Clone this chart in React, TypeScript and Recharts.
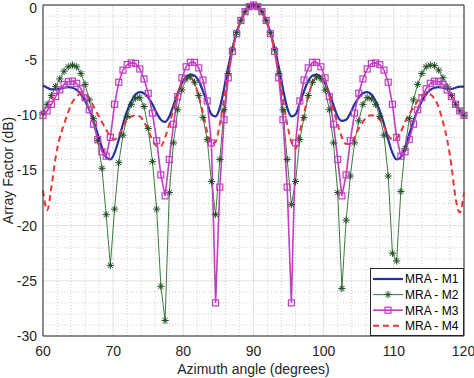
import {
	CartesianGrid,
	Legend,
	Line,
	LineChart,
	ReferenceLine,
	XAxis,
	YAxis,
} from "recharts";

// azimuth samples (degrees)
const AZIMUTH = [
	60.0, 60.6, 61.2, 61.8, 62.4, 63.0, 63.6, 64.2, 64.8, 65.4, 66.0, 66.6, 67.2,
	67.8, 68.4, 69.0, 69.6, 70.2, 70.8, 71.4, 72.0, 72.6, 73.2, 73.8, 74.4, 75.0,
	75.6, 76.2, 76.8, 77.4, 78.0, 78.6, 79.2, 79.8, 80.4, 81.0, 81.6, 82.2, 82.8,
	83.4, 84.0, 84.6, 85.2, 85.8, 86.4, 87.0, 87.6, 88.2, 88.8, 89.4, 90.0, 90.6,
	91.2, 91.8, 92.4, 93.0, 93.6, 94.2, 94.8, 95.4, 96.0, 96.6, 97.2, 97.8, 98.4,
	99.0, 99.6, 100.2, 100.8, 101.4, 102.0, 102.6, 103.2, 103.8, 104.4, 105.0,
	105.6, 106.2, 106.8, 107.4, 108.0, 108.6, 109.2, 109.8, 110.4, 111.0, 111.6,
	112.2, 112.8, 113.4, 114.0, 114.6, 115.2, 115.8, 116.4, 117.0, 117.6, 118.2,
	118.8, 119.4, 120.0,
];

const MRA_M1 = [
	-7.3, -7.5, -7.65, -7.65, -7.6, -7.5, -7.45, -7.5, -7.7, -8.1, -8.7, -9.5,
	-10.5, -11.7, -12.9, -13.8, -14.0, -13.4, -12.2, -10.8, -9.6, -8.7, -8.1,
	-7.9, -8.0, -8.4, -9.0, -9.8, -10.4, -10.6, -10.1, -9.1, -8.0, -7.1, -6.5,
	-6.3, -6.4, -6.9, -7.8, -8.9, -9.9, -10.1, -9.3, -7.6, -5.6, -3.9, -2.5, -1.4,
	-0.6, -0.15, 0, -0.15, -0.6, -1.4, -2.5, -3.9, -5.6, -7.6, -9.3, -10.1, -9.9,
	-8.9, -7.8, -6.9, -6.4, -6.3, -6.5, -7.1, -8.0, -9.1, -10.1, -10.5, -10.4,
	-9.8, -9.0, -8.4, -8.0, -7.9, -8.1, -8.7, -9.6, -10.8, -12.2, -13.4, -14.0,
	-13.8, -12.9, -11.7, -10.5, -9.5, -8.7, -8.1, -7.7, -7.5, -7.45, -7.5, -7.6,
	-7.6, -7.5, -7.4, -7.4,
];

const MRA_M2 = [
	-9.8, -9.0, -8.2, -7.4, -6.7, -6.0, -5.6, -5.45, -5.6, -6.2, -7.2, -8.6,
	-10.3, -12.3, -14.8, -19.0, -23.6, -18.5, -14.3, -11.8, -10.1, -9.0, -8.45,
	-8.4, -9.2, -11.2, -14.2, -18.5, -25.5, -28.6, -17.0, -12.5, -9.5, -7.7, -6.7,
	-6.5, -7.0, -8.2, -10.2, -12.2, -16.0, -19.0, -14.0, -9.5, -6.2, -4.0, -2.5,
	-1.4, -0.6, -0.15, 0, -0.15, -0.6, -1.4, -2.5, -4.0, -6.2, -9.5, -14.0, -18.1,
	-16.0, -12.2, -10.2, -8.2, -7.0, -6.5, -6.7, -7.7, -9.5, -12.5, -17.0, -25.7,
	-19.5, -15.5, -12.5, -10.5, -9.0, -8.4, -8.5, -9.0, -10.1, -11.8, -15.5,
	-22.5, -23.2, -16.9, -13.0, -10.3, -8.6, -7.2, -6.2, -5.6, -5.45, -5.5, -5.9,
	-6.6, -7.4, -8.2, -9.0, -9.6, -10.0,
];

const MRA_M3 = [
	-10.0, -9.6, -9.0, -8.3, -7.7, -7.2, -6.95, -6.9, -7.1, -7.6, -8.4, -9.5,
	-10.8, -12.2, -13.3, -13.7, -12.0, -9.0, -7.0, -5.9, -5.4, -5.25, -5.3, -5.8,
	-6.7, -8.0, -9.8, -12.3, -15.4, -17.3, -14.0, -10.8, -8.3, -6.6, -5.6, -5.2,
	-5.2, -5.7, -6.8, -8.7, -12.5, -27.0, -16.5, -10.4, -6.6, -4.2, -2.6, -1.4,
	-0.6, -0.15, 0, -0.15, -0.6, -1.4, -2.6, -4.2, -6.6, -10.4, -16.5, -27.0,
	-12.5, -8.7, -6.8, -5.7, -5.2, -5.2, -5.6, -6.6, -8.3, -10.8, -14.0, -17.3,
	-15.4, -12.3, -9.8, -8.0, -6.7, -5.8, -5.3, -5.25, -5.4, -5.9, -7.0, -9.0,
	-12.0, -13.7, -13.3, -12.2, -10.8, -9.5, -8.4, -7.6, -7.1, -6.9, -6.95, -7.2,
	-7.7, -8.3, -9.0, -9.6, -10.0,
];

const MRA_M4 = [
	-16.8, -18.6, -16.5, -13.8, -12.0, -10.8, -9.7, -8.8, -8.3, -8.0, -8.1, -8.5,
	-9.2, -9.9, -10.6, -11.3, -11.9, -12.2, -11.8, -11.0, -10.4, -10.1, -10.0,
	-10.1, -10.6, -11.4, -12.2, -12.8, -12.8, -12.0, -10.8, -9.5, -8.1, -7.1,
	-6.6, -6.6, -7.1, -8.3, -9.8, -11.5, -12.6, -12.4, -10.8, -8.5, -6.0, -4.0,
	-2.5, -1.4, -0.6, -0.15, 0, -0.15, -0.6, -1.4, -2.5, -4.0, -6.0, -8.5, -10.8,
	-12.4, -13.0, -11.5, -9.8, -8.3, -7.1, -6.6, -6.6, -7.1, -8.1, -9.5, -10.8,
	-12.0, -12.6, -12.6, -12.0, -11.2, -10.6, -10.1, -10.0, -10.1, -10.4, -11.0,
	-11.8, -12.2, -12.1, -11.5, -10.6, -9.9, -9.3, -8.7, -8.2, -8.0, -8.1, -8.5,
	-9.3, -10.6, -12.2, -14.5, -17.5, -18.8, -17.0,
];

const SERIES_NAMES = ["MRA - M1", "MRA - M2", "MRA - M3", "MRA - M4"];
const X_TICKS = [60, 70, 80, 90, 100, 110, 120];
const Y_TICKS = [-30, -25, -20, -15, -10, -5, 0];
const X_MINOR = [
	62, 64, 66, 68, 72, 74, 76, 78, 82, 84, 86, 88, 92, 94, 96, 98, 102, 104, 106,
	108, 112, 114, 116, 118,
];
const Y_MINOR = [
	-29, -28, -27, -26, -24, -23, -22, -21, -19, -18, -17, -16, -14, -13, -12,
	-11, -9, -8, -7, -6, -4, -3, -2, -1,
];

const BLUE = "#22319c";
const GREEN = "#3b7b3b";
const STAR = "#1f4d22";
const MAGENTA = "#c13dc1";
const RED = "#e5383b";
const AXIS = "#262626";
const FONT = "'Liberation Sans', Arial, sans-serif";

const data = AZIMUTH.map((az, i) => ({
	az,
	m1: MRA_M1[i],
	m2: MRA_M2[i],
	m3: MRA_M3[i],
	m4: MRA_M4[i],
}));

function Star({ cx, cy, color = STAR }: any) {
	if (cx == null || cy == null) return null;
	const r = 3.6;
	const d = 2.6;
	return (
		<g stroke={color} strokeWidth={1}>
			<line x1={cx - r} y1={cy} x2={cx + r} y2={cy} />
			<line x1={cx} y1={cy - r} x2={cx} y2={cy + r} />
			<line x1={cx - d} y1={cy - d} x2={cx + d} y2={cy + d} />
			<line x1={cx - d} y1={cy + d} x2={cx + d} y2={cy - d} />
		</g>
	);
}

function Square({ cx, cy }: any) {
	if (cx == null || cy == null) return null;
	return (
		<rect
			x={cx - 3}
			y={cy - 3}
			width={6}
			height={6}
			fill="none"
			stroke={MAGENTA}
			strokeWidth={1.2}
		/>
	);
}

function LegendBox() {
	const rowY = (i: number) => 11 + i * 15.6;
	return (
		<svg width={94} height={68} style={{ display: "block" }}>
			<rect x={0.5} y={0.5} width={93} height={67} fill="#fff" stroke={AXIS} />
			<line x1={3} x2={33} y1={rowY(0)} y2={rowY(0)} stroke={BLUE} strokeWidth={2.2} />
			<line x1={3} x2={33} y1={rowY(1)} y2={rowY(1)} stroke={GREEN} strokeWidth={1} />
			<Star cx={18} cy={rowY(1)} />
			<line x1={3} x2={33} y1={rowY(2)} y2={rowY(2)} stroke={MAGENTA} strokeWidth={1.6} />
			<Square cx={18} cy={rowY(2)} />
			<line
				x1={3}
				x2={33}
				y1={rowY(3)}
				y2={rowY(3)}
				stroke={RED}
				strokeWidth={2}
				strokeDasharray="6 4"
			/>
			{SERIES_NAMES.map((name, i) => (
				<text
					key={name}
					x={35}
					y={rowY(i)}
					dy="0.36em"
					fontSize={12}
					fontFamily={FONT}
					fill="#000"
				>
					{name}
				</text>
			))}
		</svg>
	);
}

export default function App() {
	return (
		<div style={{ position: "absolute", left: 0, top: 0 }}>
			<LineChart
				width={474}
				height={378}
				data={data}
				margin={{ top: 5, right: 10, bottom: 0, left: 0 }}
				style={{ fontFamily: FONT }}
			>
				<CartesianGrid stroke="#e2e2e2" strokeWidth={1} />
				{X_MINOR.map((x) => (
					<ReferenceLine
						key={`xm${x}`}
						x={x}
						stroke="#cfcfcf"
						strokeDasharray="1 2"
					/>
				))}
				{Y_MINOR.map((y) => (
					<ReferenceLine
						key={`ym${y}`}
						y={y}
						stroke="#cfcfcf"
						strokeDasharray="1 2"
					/>
				))}
				<ReferenceLine y={0} stroke={AXIS} strokeWidth={1} />
				<ReferenceLine x={120} stroke={AXIS} strokeWidth={1} />
				<XAxis
					dataKey="az"
					type="number"
					domain={[60, 120]}
					ticks={X_TICKS}
					height={42}
					tickLine={false}
					tickSize={6}
					tickMargin={4}
					axisLine={{ stroke: AXIS }}
					tick={{ fill: AXIS, fontSize: 14 }}
					label={{
						value: "Azimuth angle (degrees)",
						position: "insideBottom",
						offset: 4,
						fill: AXIS,
						fontSize: 14,
					}}
				/>
				<YAxis
					type="number"
					domain={[-30, 0]}
					ticks={Y_TICKS}
					width={43}
					tickLine={false}
					tickSize={4}
					tickMargin={2}
					axisLine={{ stroke: AXIS }}
					tick={{ fill: AXIS, fontSize: 14 }}
					label={{
						value: "Array Factor (dB)",
						angle: -90,
						position: "insideLeft",
						offset: 8,
						fill: AXIS,
						fontSize: 14,
						style: { textAnchor: "middle" },
					}}
				/>
				<Line
					dataKey="m1"
					name={SERIES_NAMES[0]}
					type="monotone"
					stroke={BLUE}
					strokeWidth={2.2}
					dot={false}
					activeDot={false}
					isAnimationActive={false}
				/>
				<Line
					dataKey="m2"
					name={SERIES_NAMES[1]}
					type="linear"
					stroke={GREEN}
					strokeWidth={1}
					dot={(p: any) => <Star key={`s${p.index}`} cx={p.cx} cy={p.cy} />}
					activeDot={false}
					isAnimationActive={false}
				/>
				<Line
					dataKey="m3"
					name={SERIES_NAMES[2]}
					type="linear"
					stroke={MAGENTA}
					strokeWidth={1.6}
					dot={(p: any) => <Square key={`q${p.index}`} cx={p.cx} cy={p.cy} />}
					activeDot={false}
					isAnimationActive={false}
				/>
				<Line
					dataKey="m4"
					name={SERIES_NAMES[3]}
					type="monotone"
					stroke={RED}
					strokeWidth={2}
					strokeDasharray="6 4"
					dot={false}
					activeDot={false}
					isAnimationActive={false}
				/>
				<Legend
					layout="vertical"
					align="center"
					verticalAlign="middle"
					wrapperStyle={{ left: 370, top: 268, width: 94, height: 68 }}
					content={() => <LegendBox />}
				/>
			</LineChart>
		</div>
	);
}
